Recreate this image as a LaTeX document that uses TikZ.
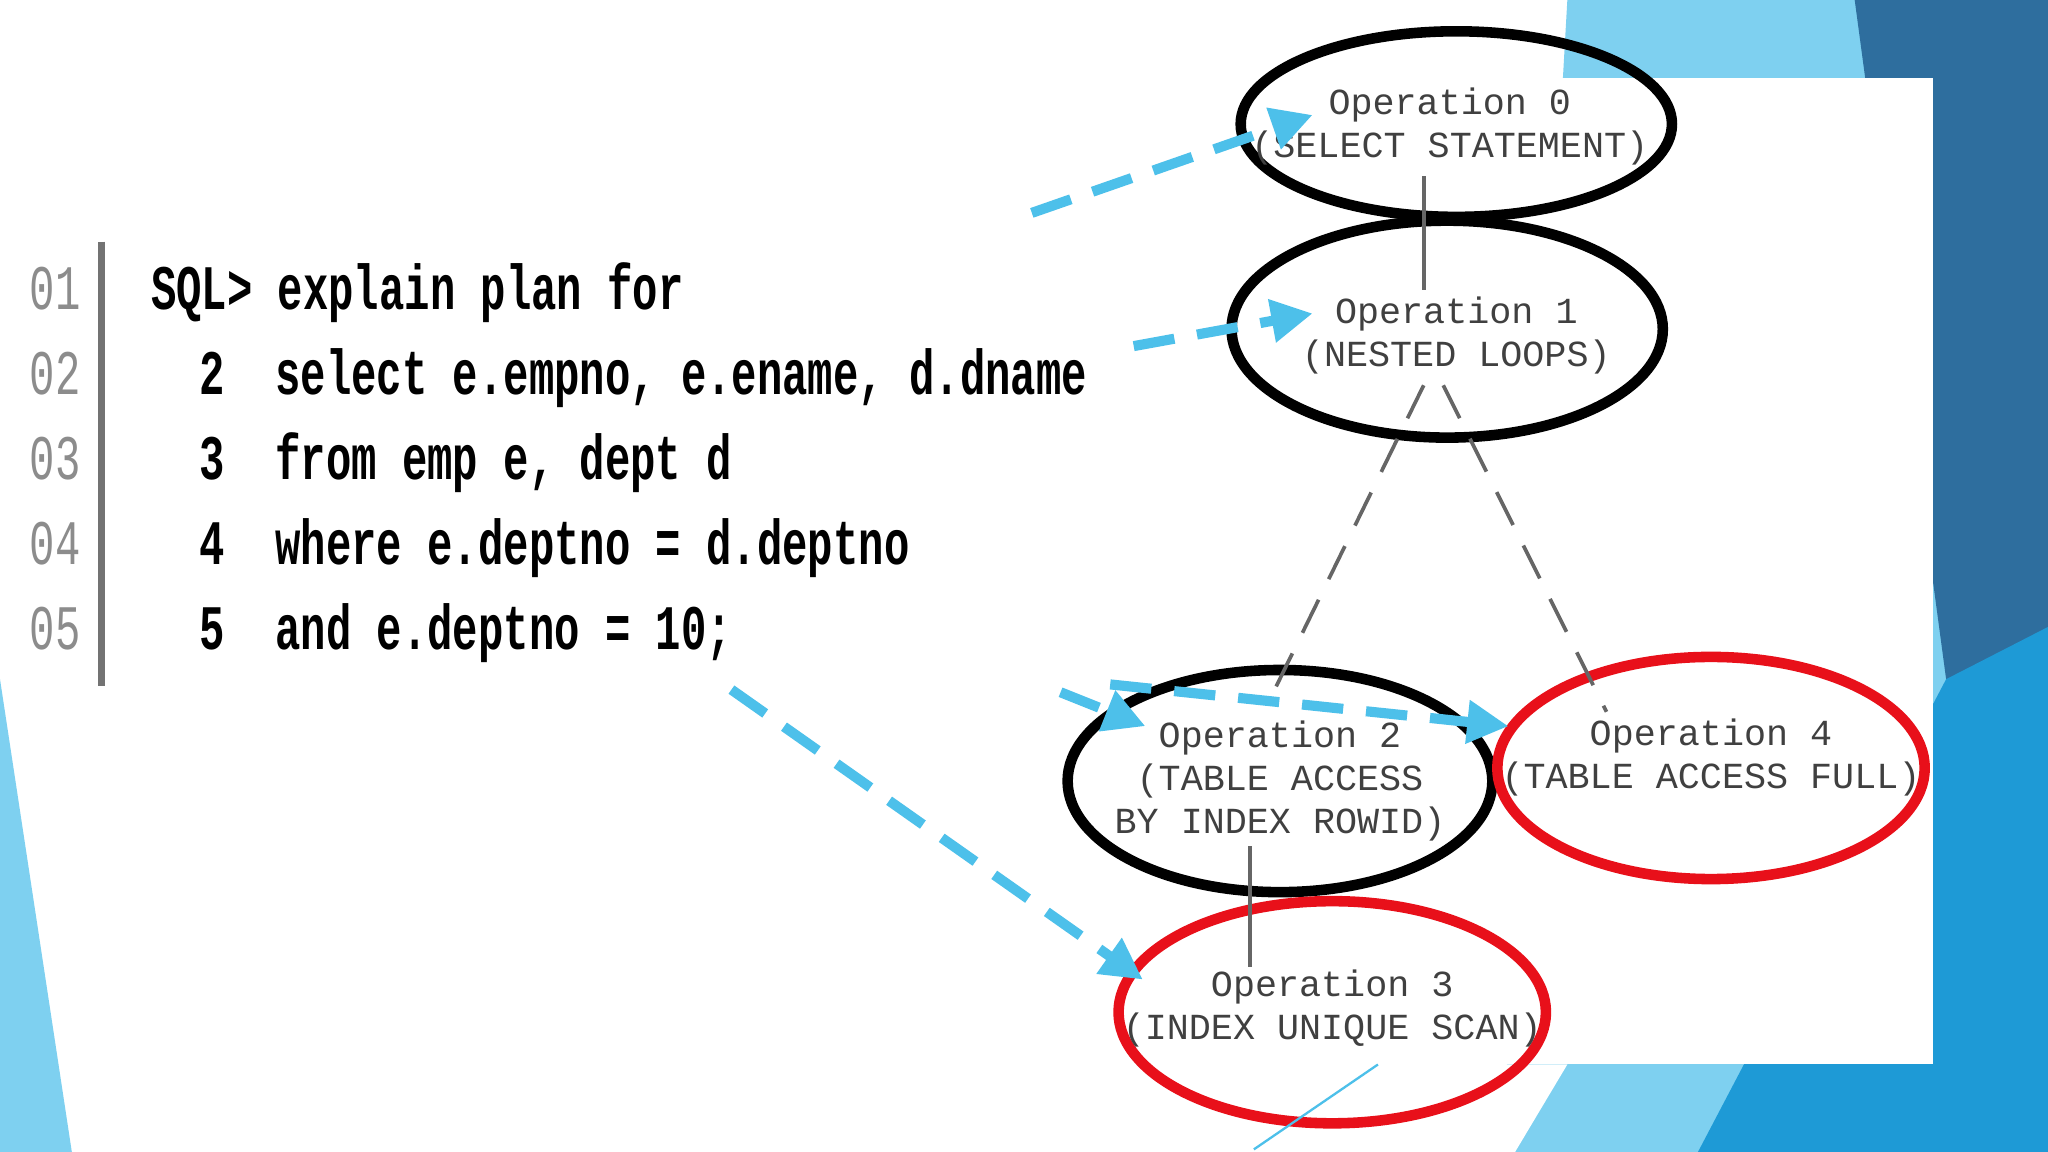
\documentclass[tikz,border=0pt]{standalone}
\usepackage{fontspec}
\setmonofont{Liberation Mono}
\usetikzlibrary{arrows.meta,shapes.geometric}
\definecolor{lb}{HTML}{7ED0F0}
\definecolor{db}{HTML}{2E6E9E}
\definecolor{mb}{HTML}{1E9AD6}
\definecolor{arr}{HTML}{4DC0EA}
\definecolor{opred}{HTML}{E8101A}
\tikzset{
 op/.style={ellipse, draw=#1, line width=2.3pt, inner sep=0pt},
 optext/.style={align=center, inner sep=0pt, font=\ttfamily\fontsize{8}{9.3}\selectfont, text=black!75},
 code/.style={anchor=base west, font=\ttfamily\fontsize{9.2}{10}\selectfont, inner sep=0pt},
 num/.style={code, text=black!45},
 bluearr/.style={arr, line width=2.2pt, dash pattern=on 9pt off 5pt, -{Triangle[length=9pt,width=9pt]}},
 tree/.style={black!60, line width=0.8pt}
}
\begin{document}
\begin{tikzpicture}[x=0.01cm,y=-0.01cm]
\useasboundingbox (0,0) rectangle (1568,882);
\fill[white] (0,0) rectangle (1568,882);
% background theme shapes
\fill[lb] (1200,0) -- (1568,0) -- (1568,882) -- (1150,882) -- cycle;
\fill[db] (1420,0) -- (1568,0) -- (1568,560) -- (1490,520) -- cycle;
\fill[mb] (1490,520) -- (1568,480) -- (1568,882) -- (1300,882) -- cycle;
\fill[lb] (0,520) -- (55,882) -- (0,882) -- cycle;
\fill[white] (1000,60) rectangle (1480,815);
\fill[white] (1150,815) -- (1200,815) -- (1160,882) -- (1140,882) -- cycle;
% code
\draw[black!55, line width=1.5pt] (78,185) -- (78,525);
\foreach \n/\y in {01/237,02/302,03/367,04/432,05/497}
  \node[num] at (22,\y) {\scalebox{1}[1.5]{\n}};
\node[code] (l1) at (115,237) {\scalebox{1}[1.5]{\bfseries SQL> explain plan for}};
\node[code] (l2) at (152,302) {\scalebox{1}[1.5]{\bfseries 2~~select e.empno, e.ename, d.dname}};
\node[code] (l3) at (152,367) {\scalebox{1}[1.5]{\bfseries 3~~from emp e, dept d}};
\node[code] (l4) at (152,432) {\scalebox{1}[1.5]{\bfseries 4~~where e.deptno = d.deptno}};
\node[code] (l5) at (152,497) {\scalebox{1}[1.5]{\bfseries 5~~and e.deptno = 10;}};
% operations
\node[op=black, minimum width=3.3cm, minimum height=1.42cm] (o0) at (1115,95) {};
\node[optext] (x0) at (1110,97) {Operation 0\\(SELECT STATEMENT)};
\node[op=black, minimum width=3.3cm, minimum height=1.66cm] (o1) at (1108,252) {};
\node[optext] (x1) at (1115,257) {Operation 1\\(NESTED LOOPS)};
\node[op=black, minimum width=3.25cm, minimum height=1.7cm] (o2) at (980,598) {};
\node[optext] (x2) at (o2) {Operation 2\\(TABLE ACCESS\\BY INDEX ROWID)};
\node[op=opred, minimum width=3.27cm, minimum height=1.7cm] (o4) at (1310,588) {};
\node[optext] (x4) at (1310,580) {Operation 4\\(TABLE ACCESS FULL)};
\node[op=opred, minimum width=3.27cm, minimum height=1.7cm] (o3) at (1020,775) {};
\node[optext] (x3) at (1020,772) {Operation 3\\(INDEX UNIQUE SCAN)};
% tree
\coordinate (t0) at (1090,135); \coordinate (t1) at (1090,222);
\draw[tree] (t0) -- (t1);
\coordinate (a1) at (1090,295); \coordinate (a2) at (970,540);
\coordinate (b1) at (1105,295); \coordinate (b2) at (1230,545);
\draw[tree, dash pattern=on 8pt off 5pt] (a1) -- (a2);
\draw[tree, dash pattern=on 8pt off 5pt] (b1) -- (b2);
\coordinate (c1) at (957,648); \coordinate (c2) at (957,740);
\draw[tree] (c1) -- (c2);
% blue arrows
\coordinate (s0) at (790,163); \coordinate (e0) at (1005,88);
\coordinate (s1) at (868,265); \coordinate (e1) at (1005,240);
\coordinate (s2) at (812,530); \coordinate (e2) at (877,556);
\coordinate (s4) at (850,524); \coordinate (e4) at (1155,556);
\coordinate (s3) at (560,528); \coordinate (e3) at (875,750);
\draw[bluearr] (s0) -- (e0);
\draw[bluearr] (s1) -- (e1);
\draw[bluearr] (s2) -- (e2);
\draw[bluearr] (s4) -- (e4);
\draw[bluearr] (s3) -- (e3);
\coordinate (d1) at (960,880); \coordinate (d2) at (1055,815);
\draw[arr, line width=0.5pt] (d1) -- (d2);
\end{tikzpicture}
\end{document}
